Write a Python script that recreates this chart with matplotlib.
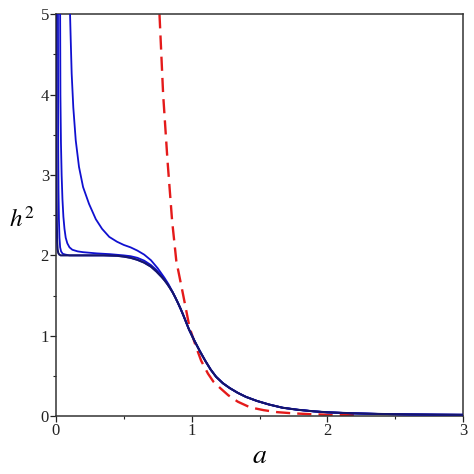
import matplotlib
matplotlib.use("Agg")
import matplotlib.pyplot as plt
from matplotlib.ticker import MultipleLocator

# red dashed curve
red_a = [0.763, 0.79, 0.822, 0.856, 0.887, 0.936, 0.985, 1.035, 1.07, 1.12,
         1.16, 1.21, 1.27, 1.34, 1.43, 1.53, 1.63, 1.75, 1.87, 2.0, 2.2]
red_h2 = [5.0, 4.0, 3.18, 2.43, 1.93, 1.52, 1.10, 0.85, 0.69, 0.53,
          0.43, 0.35, 0.26, 0.18, 0.11, 0.075, 0.05, 0.035, 0.025, 0.018, 0.013]

# common part where the blue curves run together
bundle_a = [0.05, 0.2, 0.35, 0.45, 0.5, 0.55, 0.6, 0.65, 0.7, 0.74,
            0.78, 0.80, 0.82, 0.84, 0.86, 0.88, 0.90, 0.92, 0.94, 0.96,
            0.98, 1.00, 1.02, 1.06, 1.10, 1.14, 1.18, 1.23, 1.28, 1.34,
            1.40, 1.48, 1.57, 1.67, 1.78, 1.9, 2.0, 2.2, 2.4, 2.6,
            2.8, 3.0]
bundle_h2 = [2.0, 2.0, 2.0, 1.995, 1.985, 1.97, 1.945, 1.91, 1.86, 1.80,
             1.73, 1.69, 1.645, 1.595, 1.54, 1.475, 1.405, 1.33, 1.25, 1.165,
             1.08, 1.01, 0.94, 0.81, 0.69, 0.58, 0.49, 0.41, 0.35, 0.29,
             0.24, 0.19, 0.145, 0.105, 0.08, 0.06, 0.048, 0.035, 0.027, 0.022,
             0.019, 0.017]

# separate branches near a = 0
c1_a = [0.104, 0.109, 0.116, 0.128, 0.146, 0.170, 0.20, 0.244, 0.294, 0.34,
        0.393, 0.45, 0.5, 0.55, 0.6, 0.65, 0.7, 0.75, 0.8, 0.83, 0.86]
c1_h2 = [5.0, 4.68, 4.26, 3.84, 3.43, 3.10, 2.85, 2.64, 2.45, 2.33,
         2.23, 2.17, 2.13, 2.10, 2.06, 2.01, 1.94, 1.84, 1.72, 1.64, 1.545]

c2_a = [0.031, 0.033, 0.037, 0.042, 0.048, 0.055, 0.063, 0.072, 0.084, 0.1,
        0.121, 0.16, 0.2, 0.3, 0.4, 0.5, 0.55, 0.6, 0.65, 0.7,
        0.74, 0.78, 0.82]
c2_h2 = [5.0, 4.0, 3.4, 3.0, 2.7, 2.48, 2.33, 2.22, 2.15, 2.1,
         2.07, 2.05, 2.04, 2.025, 2.015, 2.0, 1.99, 1.97, 1.935, 1.88,
         1.82, 1.745, 1.655]

c3_a = [0.015, 0.016, 0.017, 0.019, 0.022, 0.026, 0.031, 0.038, 0.05, 0.07, 0.1]
c3_h2 = [5.0, 4.0, 3.3, 2.8, 2.45, 2.22, 2.1, 2.05, 2.02, 2.01, 2.0]

c4_a = [0.002, 0.003, 0.004, 0.005, 0.007, 0.009, 0.012, 0.017, 0.025, 0.035]
c4_h2 = [5.0, 4.0, 3.2, 2.7, 2.35, 2.17, 2.08, 2.03, 2.01, 2.0]


def join_bundle(head_a, head_h2):
    xs, ys = list(head_a), list(head_h2)
    for x, y in zip(bundle_a, bundle_h2):
        if x > head_a[-1] + 0.005:
            xs.append(x)
            ys.append(y)
    return xs, ys


plt.rcParams['font.family'] = 'Liberation Serif'
plt.rcParams['mathtext.fontset'] = 'stix'

fig = plt.figure(figsize=(4.74, 4.74), dpi=100)
ax = fig.add_axes([0.118, 0.122, 0.859, 0.848])

ax.plot(red_a, red_h2, color='#e41a1a', lw=1.7, dashes=(6, 3), zorder=2)

blue = '#1010d0'
for head_a, head_h2 in [(c1_a, c1_h2), (c2_a, c2_h2), (c3_a, c3_h2)]:
    xs, ys = join_bundle(head_a, head_h2)
    ax.plot(xs, ys, color=blue, lw=1.3, zorder=3)
xs, ys = join_bundle(c4_a, c4_h2)
ax.plot(xs, ys, color='#16166a', lw=1.5, zorder=4)

ax.set_xlim(0, 3)
ax.set_ylim(0, 5)
ax.xaxis.set_major_locator(MultipleLocator(1))
ax.xaxis.set_minor_locator(MultipleLocator(0.5))
ax.yaxis.set_major_locator(MultipleLocator(1))
ax.yaxis.set_minor_locator(MultipleLocator(0.5))
ax.tick_params(which='major', direction='out', length=4, width=0.9,
               labelsize=12, pad=1, colors='#222222')
ax.tick_params(which='minor', direction='out', length=2.5, width=0.8,
               colors='#222222')

for s in ax.spines.values():
    s.set_color('#333333')
    s.set_linewidth(1.1)

ax.set_xlabel(r'$a$', fontsize=20, va='center')
ax.set_ylabel(r'$h^2$', fontsize=18, rotation=0, va='center', ha='center')
ax.xaxis.set_label_coords(0.5, -0.10)
ax.yaxis.set_label_coords(-0.084, 0.49)

fig.savefig('out.png', dpi=100)
